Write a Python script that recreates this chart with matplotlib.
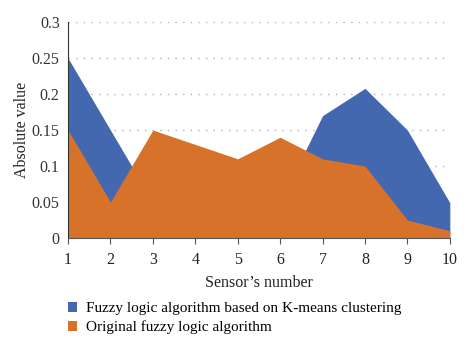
# Recreate area chart comparing two fuzzy logic algorithms.
import matplotlib
matplotlib.use("Agg")
import matplotlib.pyplot as plt
from matplotlib.patches import Patch

# Data.
sensors = [1, 2, 3, 4, 5, 6, 7, 8, 9, 10]
kmeans_fuzzy = [0.25, 0.15, 0.05, 0.05, 0.05, 0.05, 0.17, 0.208, 0.15, 0.049]
original_fuzzy = [0.15, 0.05, 0.15, 0.13, 0.11, 0.14, 0.11, 0.10, 0.025, 0.01]
y_ticks = [0, 0.05, 0.1, 0.15, 0.2, 0.25, 0.3]
y_tick_labels = ["0", "0.05", "0.1", "0.15", "0.2", "0.25", "0.3"]
series_names = ["Fuzzy logic algorithm based on K-means clustering",
                "Original fuzzy logic algorithm"]

blue = "#4468b0"
orange = "#d6722a"

plt.rcParams["font.family"] = ["Liberation Serif", "DejaVu Serif"]
plt.rcParams["font.size"] = 11

fig = plt.figure(figsize=(4.74, 3.51), dpi=100)
ax = fig.add_axes([0.1435, 0.322, 0.8055, 0.615])

# Blue area drawn first, orange on top.
ax.fill_between(sensors, 0, kmeans_fuzzy, color=blue, linewidth=0, zorder=2)
ax.fill_between(sensors, 0, original_fuzzy, color=orange, linewidth=0, zorder=3)

ax.set_xlim(1, 10)
ax.set_ylim(0, 0.3)
ax.set_xticks(sensors)
ax.set_yticks(y_ticks)
ax.set_yticklabels(y_tick_labels)

# Dotted horizontal grid lines.
for v in y_ticks[1:]:
    ax.axhline(v, color="#b0b0b0", linestyle=(0, (1, 4.5)), linewidth=1.0, zorder=1)

for side in ["top", "right"]:
    ax.spines[side].set_visible(False)
ax.spines["left"].set_color("#333333")
ax.spines["bottom"].set_color("#555555")
ax.spines["left"].set_zorder(4)
ax.spines["bottom"].set_zorder(4)
ax.tick_params(axis="y", length=0, pad=6, labelsize=11.5, colors="#333333")
ax.tick_params(axis="x", length=4, direction="out", pad=6, labelsize=11.5,
               colors="#555555", labelcolor="#222222")

ax.set_xlabel("Sensor\u2019s number", fontsize=11.5, labelpad=5, color="#222222")
ax.set_ylabel("Absolute value", fontsize=11.5, labelpad=1, color="#222222")

handles = [Patch(facecolor=blue, edgecolor="none"),
           Patch(facecolor=orange, edgecolor="none")]
fig.legend(handles, series_names, loc="upper left", bbox_to_anchor=(0.143, 0.14),
           frameon=False, fontsize=11, handlelength=0.6, handleheight=0.6,
           handletextpad=0.6, labelspacing=0.35, borderaxespad=0, borderpad=0)

fig.savefig("out.png", dpi=100)
